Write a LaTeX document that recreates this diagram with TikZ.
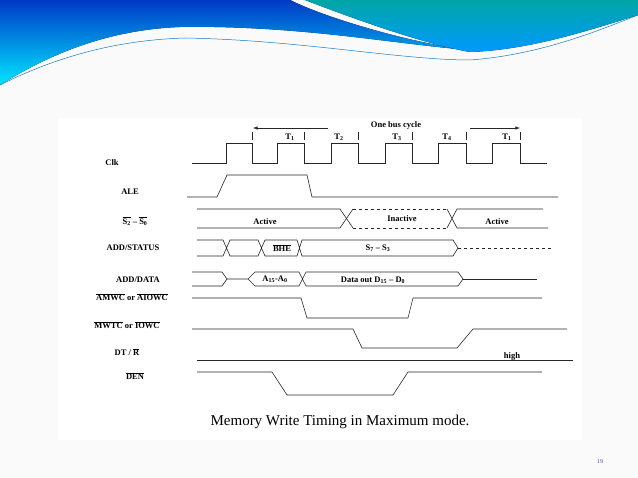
\documentclass[tikz,border=0pt]{standalone}
\usepackage{fontspec}
\setmainfont{Liberation Serif}
\newcommand{\ovl}[1]{$\overline{\mbox{#1}}$}
\newcommand{\sbs}[1]{\textsubscript{#1}}
\begin{document}
\begin{tikzpicture}[x=1pt,y=-1pt,
  sig/.style={line width=0.6pt,black!85},
  lbl/.style={font=\bfseries\fontsize{8.5}{9}\selectfont,inner sep=1pt},
  txt/.style={font=\bfseries\fontsize{8.5}{9}\selectfont,inner sep=1pt}]
\useasboundingbox (0,0) rectangle (638,478);
\fill[gray!4] (0,0) rectangle (638,478);
\fill[white] (58,118) rectangle (582,440);
% header wave
\fill[top color=blue!55!teal, bottom color=cyan!90!blue] (0,0) -- (290,0) .. controls (330,20) and (420,45) .. (470,50) .. controls (400,45) and (300,25) .. (180,27) .. controls (100,30) and (40,60) .. (0,85) -- cycle;
\fill[top color=teal!70!cyan, bottom color=cyan!60!blue] (305,0) -- (638,0) -- (638,15) .. controls (590,30) and (530,50) .. (470,52) .. controls (430,45) and (370,25) .. (305,0) -- cycle;
\draw[cyan!60!blue,line width=0.5pt] (0,85) .. controls (60,55) and (120,40) .. (185,38) .. controls (300,40) and (400,60) .. (470,60) .. controls (540,55) and (600,30) .. (638,15);
% signal labels
\node[lbl] (lclk) at (112,163) {Clk};
\node[lbl] (lale) at (130,192) {ALE};
\node[lbl] (ls) at (135,221) {\ovl{S\sbs{2}} -- \ovl{S\sbs{0}}};
\node[lbl] (lst) at (133,248) {ADD/STATUS};
\node[lbl] (ld) at (138,280) {ADD/DATA};
\node[lbl] (lam) at (132,297) {\ovl{AMWC} or \ovl{AIOWC}};
\node[lbl] (lmw) at (127,325) {\ovl{MWTC} or \ovl{IOWC}};
\node[lbl] (ldt) at (127,352) {DT / \ovl{R}};
\node[lbl] (lden) at (135,376) {\ovl{DEN}};
% clock
\draw[sig] (192,163) -- (226,163) -- (226,143) -- (252,143) -- (252,163) -- (277,163) -- (277,143) -- (304,143) -- (304,163) -- (331,163) -- (331,143) -- (358,143) -- (358,163) -- (385,163) -- (385,143) -- (412,143) -- (412,163) -- (438,163) -- (438,143) -- (466,143) -- (466,163) -- (492,163) -- (492,143) -- (520,143) -- (520,163) -- (547,163);
\foreach \x in {252,304,358,412,466,520} \draw[sig,line width=0.4pt] (\x,132) -- (\x,140);
\node[txt] (t1) at (290,137) {T\sbs{1}};
\node[txt] (t2) at (339,137) {T\sbs{2}};
\node[txt] (t3) at (397,137) {T\sbs{3}};
\node[txt] (t4) at (447,137) {T\sbs{4}};
\node[txt] (t5) at (507,137) {T\sbs{1}};
\node[txt] (obc) at (396,125) {One bus cycle};
\coordinate (al) at (253,128); \coordinate (ar) at (520,128);
\draw[sig,-latex] (328,128) -- (al);
\draw[sig,-latex] (470,128) -- (ar);
% ALE
\draw[sig] (187,197) -- (217,197) -- (227,175) -- (307,175) -- (312,197) -- (558,197);
% S2-S0
\draw[sig] (197,209) -- (340,209) -- (353,228);
\draw[sig] (197,228) -- (340,228) -- (353,209);
\draw[sig,dashed] (353,209) -- (447,209); \draw[sig,dashed] (353,228) -- (447,228);
\draw[sig] (447,209) -- (457,228) -- (548,228);
\draw[sig] (447,228) -- (457,209) -- (543,209);
\node[txt] (act1) at (265,222) {Active};
\node[txt] (inact) at (402,219) {Inactive};
\node[txt] (act2) at (497,222) {Active};
% ADD/STATUS
\draw[sig] (197,240) -- (223,240) -- (230,256) -- (258,256) -- (265,240) -- (297,240) -- (302,256) -- (453,256) -- (458,248) -- (453,240) -- (302,240) -- (297,256) -- (265,256) -- (258,240) -- (230,240) -- (223,256) -- (197,256);
\draw[sig,dashed] (458,248) -- (553,248);
\node[txt] (bhe) at (282,248) {\ovl{BHE}};
\node[txt] (s73) at (378,248) {S\sbs{7} -- S\sbs{3}};
% ADD/DATA
\draw[sig] (192,272) -- (222,272) -- (227,279) -- (222,286) -- (192,286);
\draw[sig] (227,279) -- (248,279) -- (255,272) -- (299,272) -- (306,286) -- (458,286) -- (463,279) -- (458,272) -- (306,272) -- (299,286) -- (255,286) -- (248,279);
\draw[sig] (463,279) -- (537,279);
\node[txt] (a150) at (275,279) {A\sbs{15}-A\sbs{0}};
\node[txt] (dout) at (373,280) {Data out D\sbs{15} -- D\sbs{0}};
% AMWC
\draw[sig] (192,298) -- (301,298) -- (307,318) -- (408,318) -- (413,298) -- (542,298);
% MWTC
\draw[sig] (192,329) -- (353,329) -- (362,348) -- (457,348) -- (473,329) -- (567,329);
% DT/R
\draw[sig] (197,360) -- (573,360);
\node[txt] (high) at (512,356) {high};
% DEN
\draw[sig] (197,372) -- (272,372) -- (287,395) -- (393,395) -- (408,372) -- (542,372);
% caption
\node[font=\fontsize{15}{17}\selectfont] (cap) at (340,422) {Memory Write Timing in Maximum mode.};
\node[font=\fontsize{6}{7}\selectfont,text=blue!40!gray] (pg) at (600,462) {19};
\end{tikzpicture}
\end{document}
